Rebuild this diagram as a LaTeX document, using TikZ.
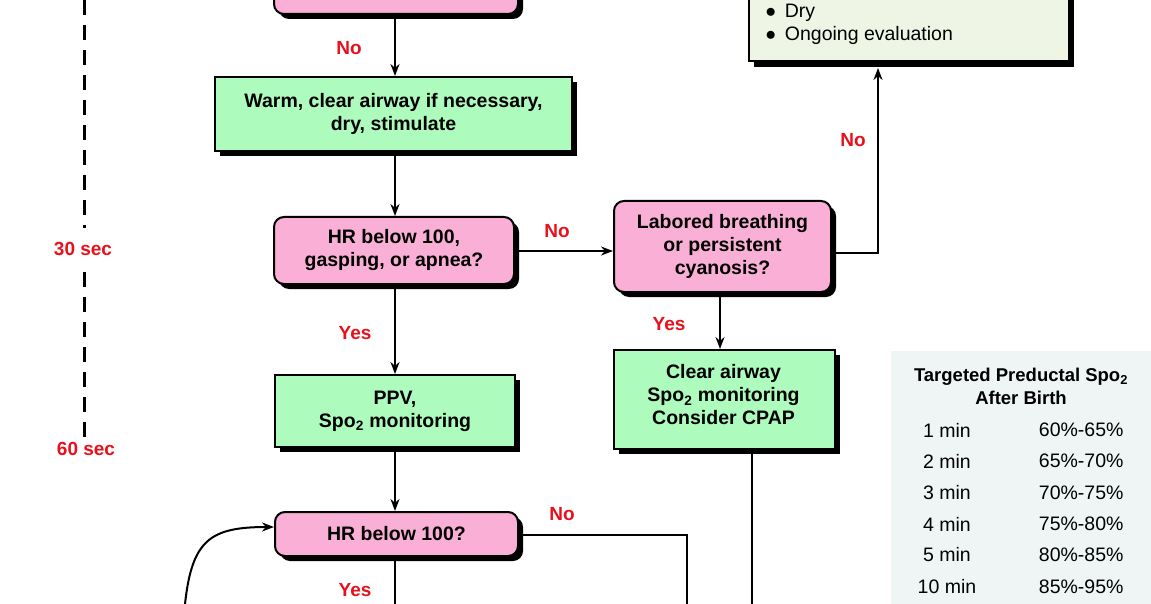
\documentclass[tikz,border=0pt]{standalone}
\usepackage{fontspec}
\setmainfont{Liberation Sans}
\usetikzlibrary{arrows.meta}
\definecolor{pk}{HTML}{F9AFD6}
\definecolor{gn}{HTML}{ADFBBD}
\definecolor{lg}{HTML}{EEF5E4}
\definecolor{tb}{HTML}{EFF4F4}
\definecolor{rd}{HTML}{E8101A}
\begin{document}
\begin{tikzpicture}[x=1pt,y=-1pt,
  box/.style={draw=black,line width=2pt,font=\bfseries\fontsize{19.5}{23}\selectfont,align=center,inner sep=0pt,anchor=north west},
  lab/.style={text=rd,font=\bfseries\fontsize{19}{20}\selectfont},
  arr/.style={line width=2pt,-{Stealth[length=12pt,width=9pt]}},
  ln/.style={line width=2pt},
  tt/.style={font=\fontsize{19.5}{23}\selectfont}]
\useasboundingbox (0,0) rectangle (1151,604);
\clip (0,0) rectangle (1151,604);
% shadows
\fill[rounded corners=10pt] (279,-40) rectangle (523,19);
\fill (220,82) rectangle (577,156);
\fill[rounded corners=10pt] (279,222) rectangle (519,289);
\fill[rounded corners=10pt] (619,206) rectangle (836,297);
\fill (754,-40) rectangle (1074,67);
\fill (280,380) rectangle (520,452);
\fill (619,355) rectangle (840,454);
\fill[rounded corners=10pt] (280,517) rectangle (523,561);
% boxes
\node[box,fill=pk,rounded corners=10pt,minimum width=244pt,minimum height=53pt] (top) at (273,-40) {};
\node[box,fill=lg,minimum width=320pt,minimum height=100pt] (tr) at (748,-40) {};
\node[box,fill=gn,minimum width=357pt,minimum height=74pt] (warm) at (214,76) {Warm, clear airway if necessary,\\dry, stimulate};
\node[box,fill=pk,rounded corners=10pt,minimum width=240pt,minimum height=67pt] (hr1) at (273,216) {HR below 100,\\gasping, or apnea?};
\node[box,fill=pk,rounded corners=10pt,minimum width=217pt,minimum height=91pt] (lab) at (613,200) {Labored breathing\\or persistent\\cyanosis?};
\node[box,fill=gn,minimum width=240pt,minimum height=72pt] (ppv) at (274,374) {PPV,\\Spo\textsubscript{2} monitoring};
\node[box,fill=gn,minimum width=221pt,minimum height=99pt,anchor=north west] (ca) at (613,349) {};
\node[font=\bfseries\fontsize{19.5}{23}\selectfont,align=center] at (723.5,395) {Clear airway\\Spo\textsubscript{2} monitoring\\Consider CPAP};
\node[box,fill=pk,rounded corners=10pt,minimum width=243pt,minimum height=44pt] (hr2) at (274,511) {HR below 100?};
% top-right text
\node[tt,anchor=west] at (762,13) {$\bullet$\hspace{9pt}Dry};
\node[tt,anchor=west] at (762,35) {$\bullet$\hspace{9pt}Ongoing evaluation};
% timeline
\draw[line width=3pt,dash pattern=on 15pt off 10pt] (84,0) -- (84,228);
\draw[line width=3pt,dash pattern=on 15pt off 10pt] (84,272) -- (84,437);
\node[lab] at (83,249) {30 sec};
\node[lab] at (86,449) {60 sec};
% arrows
\draw[arr] (395,13) -- (warm.north -| 395,0);
\node[lab] at (349,48) {No};
\draw[arr] (395,150) -- (hr1.north -| 395,0);
\draw[arr] (hr1.east |- 0,251) -- (lab.west |- 0,251);
\node[lab] at (557,231) {No};
\draw[arr] (lab.east |- 0,253) -- (878,253) -- (878,68);
\node[lab] at (853,140) {No};
\draw[arr] (395,283) -- (ppv.north -| 395,0);
\node[lab] at (355,333) {Yes};
\draw[arr] (720,297) -- (ca.north -| 720,0);
\node[lab] at (669,324) {Yes};
\draw[ln] (752,454) -- (752,604);
\draw[arr] (395,446) -- (hr2.north -| 395,0);
\draw[ln] (hr2.east |- 0,535) -- (687,535) -- (687,604);
\node[lab] at (562,514) {No};
\draw[ln] (395,561) -- (395,604);
\node[lab] at (355,590) {Yes};
\coordinate (cs) at (185,604);
\draw[arr] (cs) .. controls (192,540) and (210,527) .. (hr2.west |- 0,527);
% table
\fill[tb] (891,351) rectangle (1151,604);
\node[font=\bfseries\fontsize{18.5}{23}\selectfont,align=center] at (1021,386) {Targeted Preductal Spo\textsubscript{2}\\After Birth};
\foreach \t/\v/\y in {1 min/60\%-65\%/430,2 min/65\%-70\%/461,3 min/70\%-75\%/493,4 min/75\%-80\%/524,5 min/80\%-85\%/555,10 min/85\%-95\%/587}{
  \node[tt] at (947,\y) {\t};
  \node[tt,anchor=east] at (1127,\y) {\v};
}
\end{tikzpicture}
\end{document}
